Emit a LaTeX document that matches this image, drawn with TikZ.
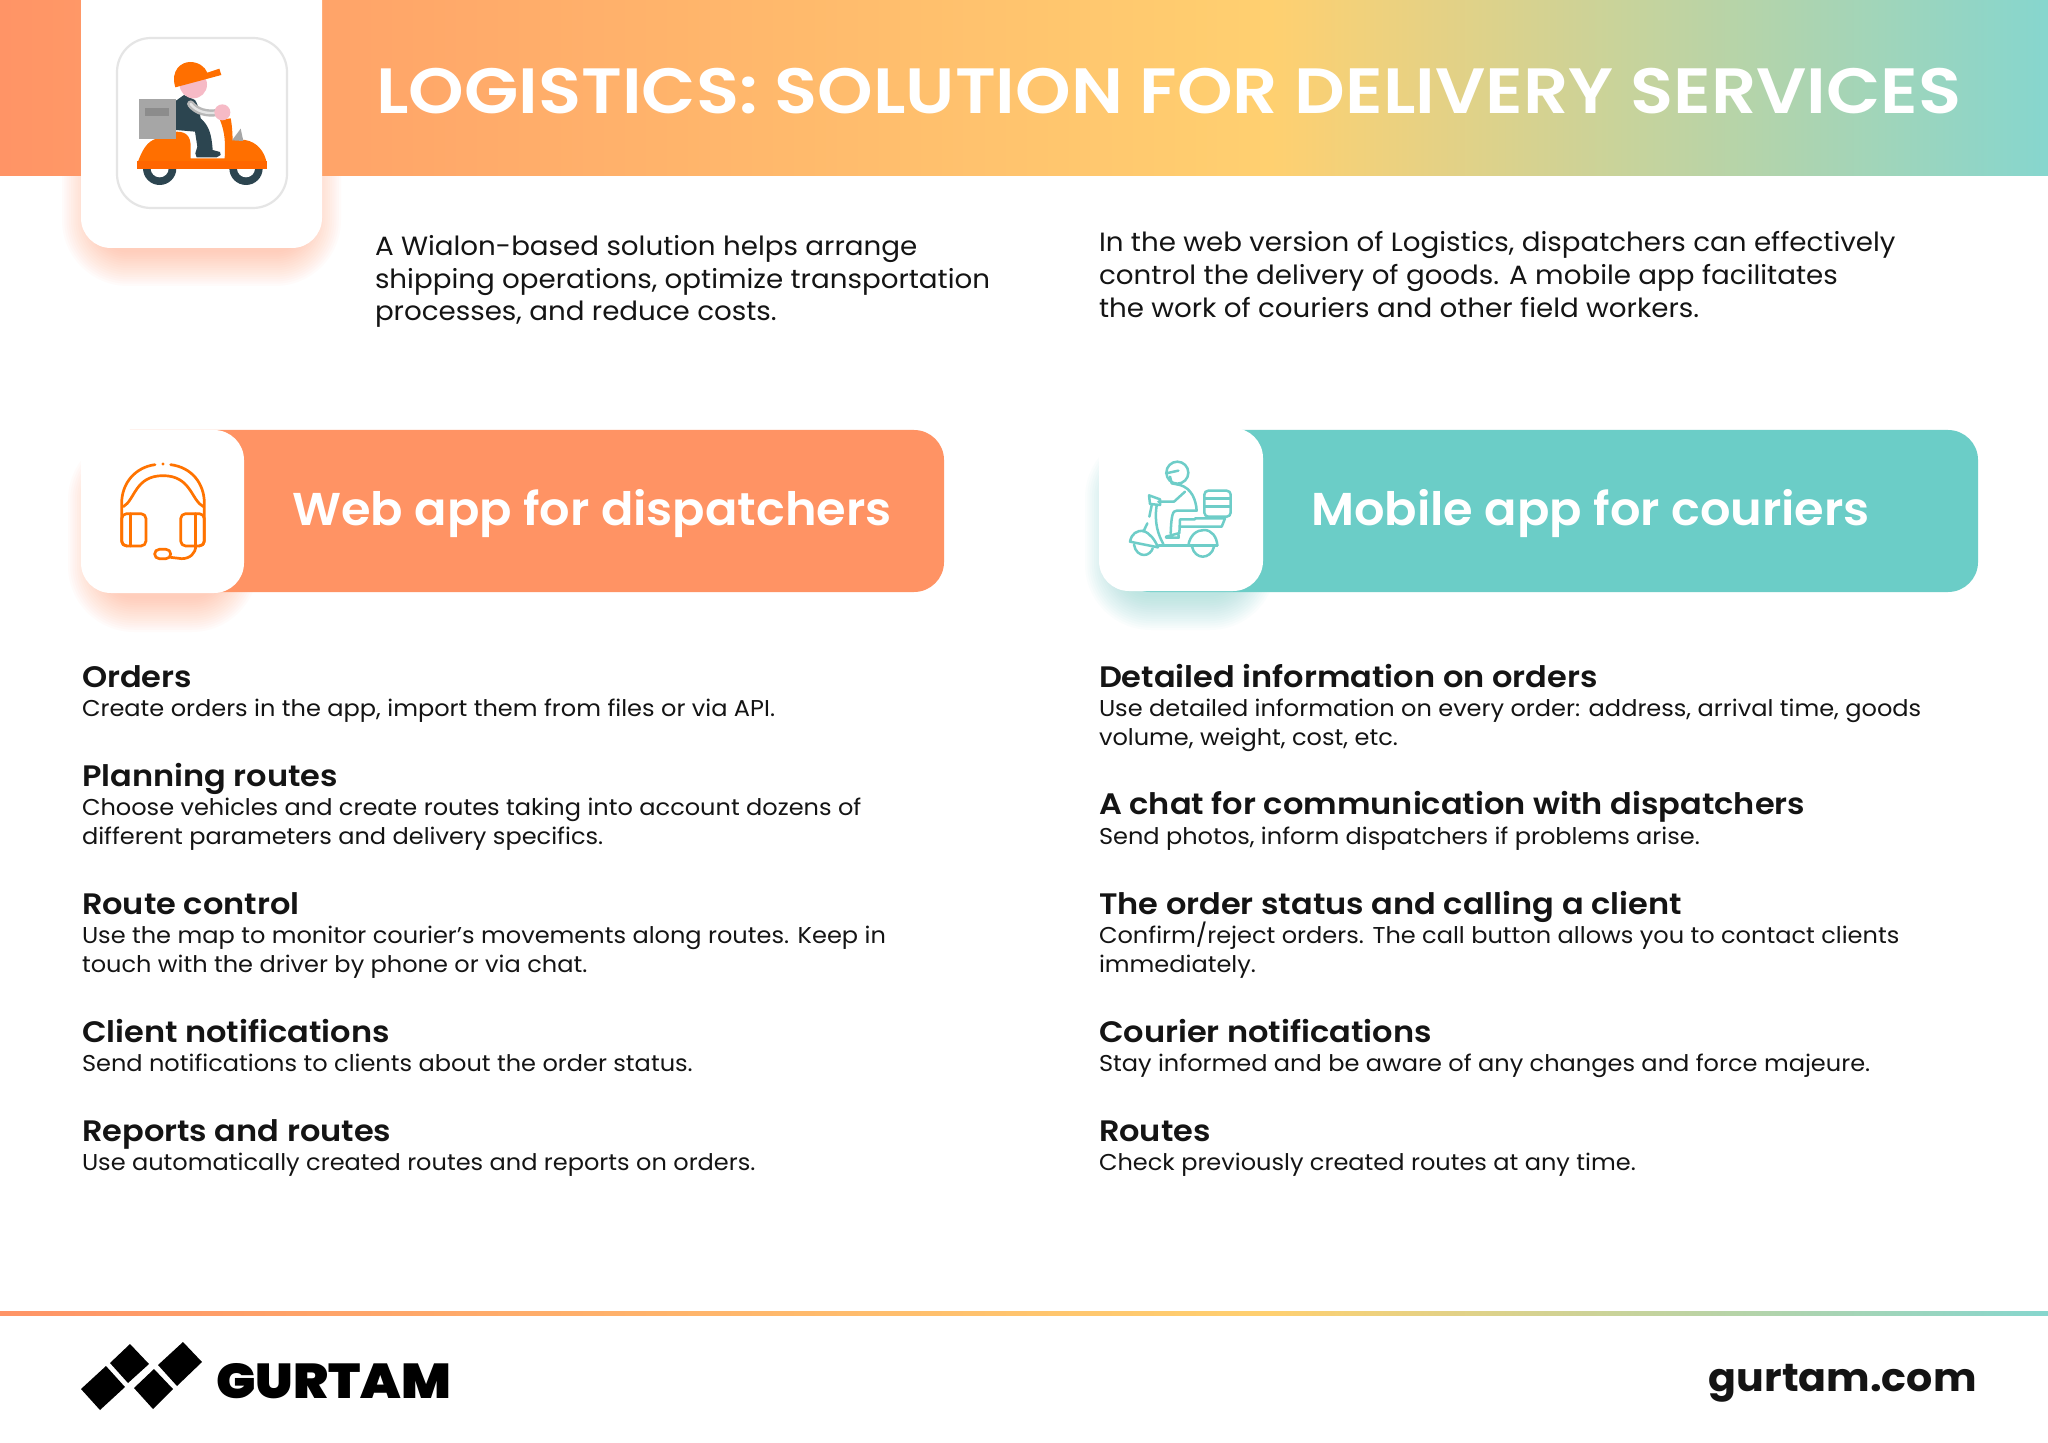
\documentclass[tikz,border=0pt]{standalone}
\usepackage{fontspec}
\setmainfont{Poppins}[FakeStretch=1.05]
\newfontfamily\semib{Poppins SemiBold}[FakeStretch=1.04]
\newfontfamily\semiitem{Poppins SemiBold}[FakeStretch=1.082]
\newfontfamily\semititle{Poppins SemiBold}[FakeStretch=1.105]
\newfontfamily\boldit{Poppins}[FakeStretch=1.05]
\newfontfamily\gurt{Poppins Black}[FakeStretch=1.07]
\definecolor{bandA}{HTML}{FF9466}
\definecolor{bandB}{HTML}{FFD070}
\definecolor{bandC}{HTML}{86D6CE}
\definecolor{panelO}{HTML}{FF9364}
\definecolor{panelT}{HTML}{6BCDC7}
\definecolor{ink}{HTML}{141414}
\definecolor{iconO}{HTML}{FF7300}
\definecolor{iconT}{HTML}{6ECDC8}
\definecolor{darkrider}{HTML}{2C4550}
\definecolor{pinkskin}{HTML}{F6BAC6}
\definecolor{scootO}{HTML}{FF6F00}
\pgfdeclarehorizontalshading{bandshade}{100bp}{color(0bp)=(bandA);color(25bp)=(bandA);color(56bp)=(bandB);color(75bp)=(bandC);color(100bp)=(bandC)}
\tikzset{
  x=0.5pt,y=-0.5pt,
  txt/.style={inner sep=0pt,outer sep=0pt,anchor=base west,align=left,text=ink},
  itemtitle/.style={txt,font=\semiitem\fontsize{14.8}{15}\selectfont},
  itembody/.style={txt,font=\fontsize{11.45}{14.35}\selectfont},
  intro/.style={txt,font=\fontsize{13.2}{16.45}\selectfont},
  headtxt/.style={inner sep=0pt,anchor=base west,text=white,font=\semib\fontsize{23}{24}\selectfont},
  tilecard/.style={fill=white,draw=none,rounded corners=15pt},
  hline/.style={draw=iconO,line width=1.35pt,line cap=round,line join=round},
  tline/.style={draw=iconT,line width=1.25pt,line cap=round,line join=round},
  zoomA/.style={x=0.16667pt,y=-0.16667pt,shift={(0pt,0pt)}},
  zoomB/.style={x=0.16667pt,y=-0.16667pt,shift={(30pt,-210pt)}},
  zoomC/.style={x=0.16667pt,y=-0.16667pt,shift={(540pt,-210pt)}},
}
\newcommand{\softshadow}[6]{% color, x0,y0,x1,y1, radius(pt)
  \foreach \k in {0,...,15}{
    \pgfmathsetmacro{\gr}{36-2.25*\k}
    \fill[#1,opacity=0.03,rounded corners={#6pt+\gr*0.5pt}]
      (#2-\gr,#3-\gr) rectangle (#4+\gr,#5+\gr);
  }
}
\begin{document}
\begin{tikzpicture}
\useasboundingbox (0,0) rectangle (2048,1443);
\fill[white] (0,0) rectangle (2048,1443);
% top band
\path[shading=bandshade] (0,0) rectangle (2048,176);
% card with scooter
\softshadow{bandA}{98}{100}{305}{250}{15}
\path[shading=bandshade] (0,0) rectangle (2048,176);
\fill[tilecard] (81,-40) rectangle (322,248);
\draw[draw=black!10,fill=white,line width=1.1pt,rounded corners=17pt] (117,38) rectangle (287,208);
\begin{scope}[zoomA]
  % wheels
  \fill[darkrider] (479,505) circle[radius=50];
  \fill[white] (479,505) circle[radius=27];
  \fill[darkrider] (738,505) circle[radius=50];
  \fill[white] (738,505) circle[radius=27];
  % body
  \fill[scootO] (412,490) .. controls (425,455) and (440,420) .. (475,415) -- (530,395)
    .. controls (560,395) and (572,410) .. (572,440) -- (572,475) -- (674,475)
    .. controls (676,430) and (676,400) .. (660,360) -- (692,355)
    .. controls (697,380) and (697,400) .. (698,420) -- (735,420)
    .. controls (770,425) and (795,455) .. (800,490) -- cycle;
  \fill[scootO!92!red] (410,483) rectangle (802,508);
  % mirror
  \fill[black!35] (696,421) -- (722,386) -- (730,423) -- cycle;
  % rider
  \fill[darkrider] (528,302) -- (552,285) -- (585,300) .. controls (598,320) and (600,345) .. (602,355)
    .. controls (625,375) and (635,400) .. (638,450) -- (660,456) -- (662,465) -- (650,472)
    -- (590,472) -- (586,460) -- (592,440) -- (585,395) -- (528,390) -- cycle;
  % arm
  \draw[black!28,line width=3.6pt,line cap=round] (572,312) .. controls (590,335) and (620,342) .. (650,338);
  \draw[black!10,line width=1.2pt,line cap=round] (572,312) .. controls (590,335) and (620,342) .. (650,338);
  % hand and head
  \fill[pinkskin] (667,337) circle[radius=24];
  \fill[pinkskin] (580,254) circle[radius=41];
  % box
  \fill[black!35] (417,296) rectangle (528,416);
  \fill[black!45] (435,325) rectangle (507,348);
  % cap
  \fill[scootO] (526,262) .. controls (510,210) and (545,186) .. (570,186)
    .. controls (595,186) and (615,200) .. (622,218) -- (658,206) -- (664,225) -- cycle;
\end{scope}
% intro text
\node[intro] (introL) at (375,321) {A Wialon-based solution helps arrange\\shipping operations, optimize transportation\\processes, and reduce costs.};
\node[intro] (introR) at (1099,317.5) {In the web version of Logistics, dispatchers can effectively\\control the delivery of goods. A mobile app facilitates\\the work of couriers and other field workers.};
% title
\node[inner sep=0pt,anchor=base west,text=white,font=\semititle\fontsize{32}{33}\selectfont] (title) at (376,114) {LOGISTICS: SOLUTION FOR DELIVERY SERVICES};
% web panel
\softshadow{bandA}{104}{470}{222}{596}{15}
\fill[panelO,rounded corners=15pt] (100,430) rectangle (944,592);
\fill[tilecard] (81,430) rectangle (244,593);
\node[headtxt] (webhead) at (292,525) {Web app for dispatchers};
\begin{scope}[zoomB]
  \path[hline] (285,134) .. controls (225,142) and (185,190) .. (185,250) -- (185,360) .. controls (185,372) and (192,378) .. (200,378);
  \fill[iconO] (309,132) circle[radius=5];
  \path[hline] (332,134) .. controls (395,142) and (433,190) .. (433,250) -- (433,360) .. controls (433,372) and (426,378) .. (418,378);
  \path[hline] (190,260) .. controls (225,240) and (225,167) .. (309,167) .. controls (393,167) and (393,240) .. (430,260);
  \path[hline,rounded corners=2.5pt] (185,281) rectangle (258,378);
  \path[hline] (212,281) -- (212,378);
  \path[hline,rounded corners=2.5pt] (362,281) rectangle (433,378);
  \path[hline] (407,281) -- (407,378);
  \path[hline,rounded corners=2.3pt] (284,388) rectangle (332,416);
  \path[hline] (332,412) -- (365,416) .. controls (390,416) and (407,400) .. (407,378);
\end{scope}
% mobile panel
\softshadow{panelT}{1121}{468}{1240}{594}{15}
\fill[panelT,rounded corners=15pt] (1120,430) rectangle (1978,592);
\fill[tilecard] (1099,428) rectangle (1263,591);
\node[headtxt] (mobhead) at (1311,525) {Mobile app for couriers};
\begin{scope}[zoomC]
  % head
  \path[tline] (292,158) circle[radius=33];
  \path[tline] (258,160) -- (295,152);
  \path[tline] (270,170) -- (275,190) -- (300,195);
  % torso, arm
  \path[tline] (300,195) .. controls (335,205) and (348,240) .. (350,272) -- (290,272) .. controls (278,272) and (274,285) .. (272,340);
  \path[tline] (315,215) -- (282,245) -- (235,245);
  \path[tline] (305,298) -- (345,298) -- (300,298) -- (298,340);
  \path[tline] (258,350) -- (295,340) -- (296,353) -- (258,353);
  % handlebar
  \path[tline] (207,226) -- (240,238) -- (240,255) -- (210,252) -- cycle;
  % box
  \path[tline,rounded corners=2pt] (373,212) rectangle (452,290);
  \path[tline] (373,236) -- (452,236);
  \path[tline] (373,259) -- (452,259);
  \path[tline] (345,295) -- (435,295) -- (425,320) -- (300,320);
  % column
  \path[tline] (215,256) -- (208,290);
  \path[tline] (202,310) -- (190,335);
  \path[tline] (230,256) .. controls (222,310) and (235,345) .. (250,372);
  % floor and rear
  \path[tline] (236,376) -- (412,376);
  \path[tline] (325,376) .. controls (330,345) and (350,330) .. (372,330) .. controls (395,330) and (410,350) .. (412,376);
  \path[tline] (336,380) .. controls (340,400) and (355,410) .. (368,410) .. controls (382,410) and (398,400) .. (402,380);
  % front
  \path[tline] (150,365) .. controls (155,340) and (170,332) .. (190,332) .. controls (210,340) and (225,360) .. (234,382) -- cycle;
  \path[tline] (162,374) .. controls (165,395) and (180,405) .. (192,405) .. controls (205,405) and (215,395) .. (218,385);
\end{scope}
% left column
\node[itemtitle] (t1) at (82,687) {Orders};
\node[itembody] (b1) at (82,716) {Create orders in the app, import them from files or via API.};
\node[itemtitle] (t2) at (82,786.5) {Planning routes};
\node[itembody] (b2) at (82,844) {Choose vehicles and create routes taking into account dozens of\\different parameters and delivery specifics.};
\node[itemtitle] (t3) at (82,914.5) {Route control};
\node[itembody] (b3) at (82,972) {Use the map to monitor courier’s movements along routes. Keep in\\touch with the driver by phone or via chat.};
\node[itemtitle] (t4) at (82,1042.5) {Client notifications};
\node[itembody] (b4) at (82,1071) {Send notifications to clients about the order status.};
\node[itemtitle] (t5) at (82,1141.5) {Reports and routes};
\node[itembody] (b5) at (82,1170) {Use automatically created routes and reports on orders.};
% right column
\node[itemtitle] (r1) at (1099,687) {Detailed information on orders};
\node[itembody] (s1) at (1099,745) {Use detailed information on every order: address, arrival time, goods\\volume, weight, cost, etc.};
\node[itemtitle] (r2) at (1099,814.5) {A chat for communication with dispatchers};
\node[itembody] (s2) at (1099,844) {Send photos, inform dispatchers if problems arise.};
\node[itemtitle] (r3) at (1099,914.5) {The order status and calling a client};
\node[itembody] (s3) at (1099,972) {Confirm/reject orders. The call button allows you to contact clients\\immediately.};
\node[itemtitle] (r4) at (1099,1042.5) {Courier notifications};
\node[itembody] (s4) at (1099,1071) {Stay informed and be aware of any changes and force majeure.};
\node[itemtitle] (r5) at (1099,1141.5) {Routes};
\node[itembody] (s5) at (1099,1170) {Check previously created routes at any time.};
% footer
\path[shading=bandshade] (0,1311) rectangle (2048,1315);
\fill[black] (81,1389) -- (106,1366) -- (125,1387) -- (100,1410) -- cycle;
\fill[black] (110,1363) -- (130,1344) -- (149,1364) -- (128,1383) -- cycle;
\fill[black] (134,1388) -- (154,1369) -- (173,1389) -- (153,1409) -- cycle;
\fill[black] (158,1365) -- (183,1342) -- (202,1362) -- (177,1386) -- cycle;
\node[inner sep=0pt,anchor=base west,text=black,font=\gurt\fontsize{24.5}{25}\selectfont] (gurtam) at (216,1398) {GURTAM};
\node[inner sep=0pt,anchor=base east,text=ink,font=\boldit\bfseries\fontsize{19.6}{22}\selectfont] (site) at (1977,1391) {gurtam.com};
\end{tikzpicture}
\end{document}
